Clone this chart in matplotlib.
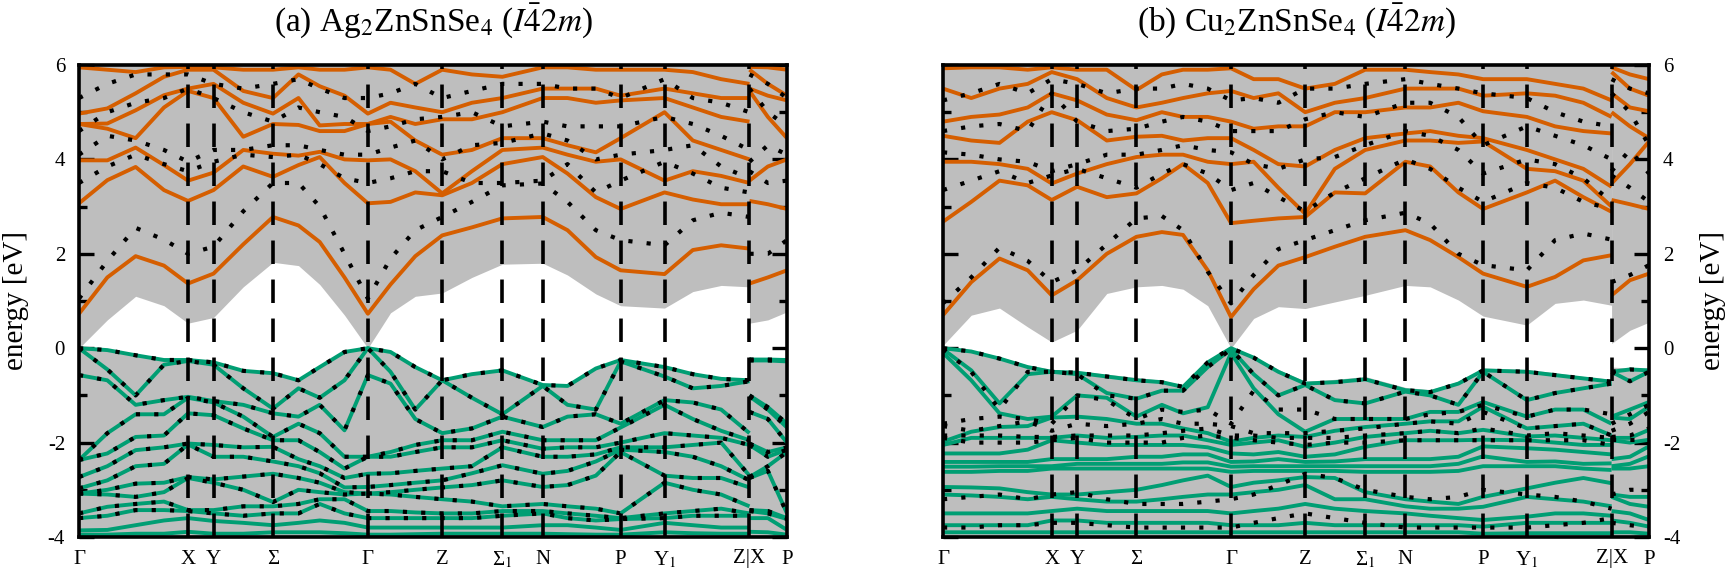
import numpy as np
import matplotlib
matplotlib.use('Agg')
import matplotlib.pyplot as plt
from matplotlib.ticker import MultipleLocator

plt.rcParams['font.family'] = ['Liberation Serif', 'DejaVu Serif']
plt.rcParams['mathtext.fontset'] = 'stix'
plt.rcParams['axes.unicode_minus'] = False

# ---------------- k-path ----------------
k_path = [0.0, 0.04, 0.08, 0.12, 0.154, 0.19, 0.232, 0.274, 0.31, 0.34, 0.375,
          0.408, 0.44, 0.475, 0.513, 0.555, 0.598, 0.655, 0.69, 0.73, 0.765,
          0.827, 0.867, 0.907, 0.947]
k_xp = [0.947, 0.973, 1.0]
tick_k = [0.0, 0.154, 0.19, 0.274, 0.408, 0.513, 0.598, 0.655, 0.765, 0.827, 0.947, 1.0]
tick_labels = ['Γ', 'X', 'Y', 'Σ', 'Γ', 'Z', 'Σ$_1$', 'N', 'P', 'Y$_1$', 'Z|X', 'P']

# ---------------- (a) Ag2ZnSnSe4 : rows = k points (25 on path, 3 on X-P) ----------------
ag_cb = [
    [0.73, 3.07, 3.98, 4.75, 4.75, 4.97, 5.95],
    [1.5, 3.56, 3.98, 4.65, 4.76, 5.08, 5.9],
    [1.95, 3.84, 4.25, 4.45, 5.04, 5.4, 5.85],
    [1.75, 3.35, 3.88, 5.1, 5.36, 5.75, 5.95],
    [1.37, 3.12, 3.55, 5.45, 5.5, 5.9, 5.96],
    [1.58, 3.35, 3.72, 5.3, 5.6, 5.9, 5.95],
    [2.2, 3.85, 4.2, 4.48, 5.2, 5.45, 5.9],
    [2.78, 3.63, 4.12, 4.75, 4.97, 5.3, 5.9],
    [2.6, 3.88, 4.08, 4.73, 5.3, 5.8, 5.95],
    [2.25, 4.05, 4.16, 4.6, 4.72, 5.55, 5.9],
    [1.5, 3.5, 4.0, 4.6, 4.75, 5.35, 5.9],
    [0.73, 3.07, 3.98, 4.75, 4.75, 4.97, 5.95],
    [1.35, 3.1, 4.0, 4.8, 4.9, 5.2, 5.9],
    [1.95, 3.3, 3.75, 4.4, 4.75, 5.1, 5.6],
    [2.39, 3.24, 3.28, 4.1, 4.85, 5.0, 5.9],
    [2.56, 3.5, 3.75, 4.2, 4.85, 5.2, 5.8],
    [2.75, 3.9, 4.2, 4.45, 5.0, 5.3, 5.75],
    [2.78, 4.05, 4.25, 4.45, 5.3, 5.5, 5.95],
    [2.5, 3.7, 4.1, 4.3, 5.3, 5.5, 5.95],
    [1.93, 3.2, 3.95, 4.15, 5.2, 5.5, 5.9],
    [1.65, 2.95, 4.0, 4.45, 5.25, 5.35, 5.9],
    [1.57, 3.3, 3.55, 5.0, 5.3, 5.5, 5.9],
    [2.08, 3.15, 3.75, 4.4, 5.1, 5.4, 5.85],
    [2.18, 3.05, 3.65, 4.2, 4.9, 5.3, 5.7],
    [2.11, 3.05, 3.5, 4.0, 4.8, 5.3, 5.6],
    [1.37, 3.12, 3.55, 5.45, 5.5, 5.9, 5.96],
    [1.5, 3.05, 3.85, 4.9, 5.35, 5.6, 5.95],
    [1.65, 2.95, 4.0, 4.45, 5.25, 5.35, 5.9],
]
ag_vb = [
    [0, 0, -0.57, -2.37, -2.37, -2.73, -2.97, -3.08, -3.08, -3.5, -3.6, -3.86, -3.95],
    [-0.04, -0.45, -0.68, -1.8, -2.23, -2.5, -2.8, -3.0, -3.1, -3.36, -3.55, -3.85, -3.95],
    [-0.15, -1.0, -1.2, -1.4, -1.88, -2.16, -2.5, -2.87, -3.15, -3.3, -3.43, -3.75, -3.93],
    [-0.25, -0.35, -1.1, -1.4, -1.85, -2.1, -2.45, -2.85, -3.05, -3.25, -3.43, -3.65, -3.93],
    [-0.25, -0.27, -1.03, -1.05, -1.38, -2.02, -2.04, -2.73, -2.75, -3.43, -3.45, -3.6, -3.89],
    [-0.3, -0.35, -1.12, -1.15, -1.42, -2.05, -2.3, -2.78, -2.85, -3.43, -3.5, -3.66, -3.93],
    [-0.48, -0.85, -1.2, -1.45, -1.7, -2.1, -2.3, -2.72, -3.0, -3.35, -3.55, -3.7, -3.93],
    [-0.53, -1.28, -1.38, -1.88, -1.95, -2.09, -2.4, -2.66, -3.26, -3.35, -3.5, -3.75, -3.9],
    [-0.68, -0.85, -1.45, -1.6, -1.95, -2.35, -2.5, -2.75, -3.0, -3.3, -3.5, -3.7, -3.9],
    [-0.4, -1.05, -1.2, -1.8, -2.2, -2.5, -2.65, -2.85, -3.05, -3.2, -3.3, -3.65, -3.9],
    [-0.08, -0.68, -1.74, -2.3, -2.55, -2.75, -2.95, -3.05, -3.1, -3.2, -3.5, -3.7, -3.92],
    [0, 0, -0.57, -2.3, -2.3, -2.66, -2.94, -3.08, -3.08, -3.45, -3.6, -3.8, -3.95],
    [-0.08, -0.5, -0.75, -2.2, -2.3, -2.65, -2.9, -3.05, -3.1, -3.45, -3.6, -3.8, -3.95],
    [-0.4, -1.3, -1.5, -2.05, -2.2, -2.6, -2.85, -3.0, -3.15, -3.48, -3.6, -3.8, -3.94],
    [-0.68, -0.68, -1.8, -1.95, -2.1, -2.55, -2.8, -2.95, -3.2, -3.5, -3.6, -3.8, -3.93],
    [-0.55, -1.05, -1.7, -1.95, -2.1, -2.5, -2.65, -2.9, -3.25, -3.5, -3.6, -3.8, -3.93],
    [-0.47, -1.4, -1.45, -1.77, -1.95, -2.1, -2.48, -2.8, -3.35, -3.45, -3.55, -3.8, -3.93],
    [-0.78, -0.8, -1.67, -1.95, -2.13, -2.3, -2.66, -2.94, -3.3, -3.45, -3.5, -3.75, -3.93],
    [-0.8, -1.2, -1.45, -1.95, -2.1, -2.3, -2.6, -2.9, -3.35, -3.5, -3.6, -3.75, -3.94],
    [-0.43, -1.3, -1.4, -1.95, -2.1, -2.25, -2.4, -2.7, -3.4, -3.55, -3.65, -3.8, -3.95],
    [-0.25, -0.28, -1.6, -1.68, -2.0, -2.1, -2.15, -2.2, -3.5, -3.6, -3.62, -3.85, -3.95],
    [-0.4, -0.6, -1.1, -1.2, -1.8, -2.1, -2.2, -2.7, -2.85, -3.5, -3.6, -3.7, -3.9],
    [-0.55, -0.85, -1.15, -1.5, -1.85, -2.05, -2.3, -2.75, -3.0, -3.45, -3.55, -3.75, -3.92],
    [-0.65, -0.8, -1.3, -1.75, -1.9, -2.0, -2.5, -2.75, -3.1, -3.4, -3.55, -3.8, -3.93],
    [-0.68, -0.7, -1.8, -1.95, -2.05, -2.7, -2.8, -2.95, -3.35, -3.5, -3.55, -3.8, -3.93],
    [-0.24, -0.26, -1.0, -1.02, -1.35, -2.02, -2.05, -2.73, -2.75, -3.43, -3.45, -3.6, -3.89],
    [-0.24, -0.26, -1.25, -1.3, -1.5, -2.2, -2.3, -2.5, -2.6, -3.45, -3.5, -3.6, -3.9],
    [-0.25, -0.28, -1.6, -1.68, -2.0, -2.1, -2.15, -2.2, -3.5, -3.6, -3.62, -3.85, -3.95],
]
ag_dft_cb = [
    [1.05, 3.5, 4.1, 4.6, 5.3],
    [1.85, 3.85, 4.5, 5.0, 5.6],
    [2.55, 4.1, 4.4, 5.2, 5.8],
    [2.3, 3.9, 4.2, 5.3, 5.8],
    [2.0, 3.75, 3.95, 5.5, 5.8],
    [2.15, 3.95, 4.2, 5.3, 5.6],
    [2.9, 4.1, 4.2, 5.0, 5.5],
    [3.5, 4.05, 4.3, 4.8, 5.6],
    [3.5, 4.1, 4.3, 5.1, 5.7],
    [3.0, 3.9, 4.2, 5.0, 5.5],
    [2.0, 3.6, 4.1, 4.9, 5.3],
    [1.05, 3.5, 4.1, 4.6, 5.3],
    [1.9, 3.6, 4.25, 4.7, 5.4],
    [2.5, 3.75, 4.4, 4.85, 5.6],
    [2.78, 3.75, 4.0, 4.9, 5.3],
    [3.1, 3.5, 4.3, 5.0, 5.45],
    [3.45, 3.5, 4.35, 4.7, 5.6],
    [3.49, 3.55, 4.55, 4.8, 5.6],
    [3.1, 3.9, 4.4, 4.7, 5.5],
    [2.5, 3.3, 4.0, 4.7, 5.5],
    [2.29, 3.55, 4.1, 4.7, 5.3],
    [2.18, 3.95, 4.2, 4.9, 5.7],
    [2.71, 3.7, 4.3, 4.75, 5.3],
    [2.87, 3.4, 3.85, 4.5, 5.2],
    [2.78, 3.3, 3.6, 4.2, 5.0],
    [2.0, 3.75, 3.95, 5.5, 5.8],
    [2.0, 3.5, 4.3, 5.0, 5.6],
    [2.29, 3.55, 4.1, 4.7, 5.3],
]
# in (a) the dotted valence bands lie on the green ones (same reading)
ag_dft_vb = [row[:11] for row in ag_vb]
ag_gray_c = [0.0, 0.6, 1.1, 0.9, 0.53, 0.65, 1.3, 1.82, 1.75, 1.35, 0.7, 0.0, 0.75,
             1.1, 1.17, 1.5, 1.78, 1.8, 1.55, 1.15, 0.9, 0.85, 1.2, 1.33, 1.3,
             0.53, 0.6, 0.77]
ag_gray_v = [0.0, -0.04, -0.15, -0.25, -0.25, -0.3, -0.48, -0.53, -0.68, -0.4, -0.08,
             0.0, -0.08, -0.4, -0.68, -0.55, -0.47, -0.78, -0.8, -0.43, -0.25, -0.4,
             -0.55, -0.65, -0.68, -0.24, -0.24, -0.25]

# ---------------- (b) Cu2ZnSnSe4 ----------------
cu_cb = [
    [0.7, 2.68, 3.95, 4.5, 4.8, 5.5, 5.93],
    [1.4, 3.1, 3.95, 4.4, 4.9, 5.3, 5.95],
    [1.9, 3.55, 3.9, 4.35, 4.95, 5.5, 5.95],
    [1.65, 3.45, 3.8, 4.8, 5.1, 5.6, 5.9],
    [1.12, 3.14, 3.49, 5.0, 5.4, 5.85, 5.95],
    [1.44, 3.42, 3.7, 4.83, 5.25, 5.7, 5.9],
    [2.0, 3.2, 3.9, 4.4, 4.95, 5.3, 5.9],
    [2.36, 3.28, 4.05, 4.48, 4.83, 5.1, 5.47],
    [2.46, 3.6, 4.1, 4.5, 5.0, 5.2, 5.8],
    [2.4, 3.9, 4.1, 4.4, 4.9, 5.3, 5.9],
    [1.65, 3.5, 3.95, 4.45, 4.9, 5.4, 5.9],
    [0.66, 2.65, 3.9, 4.45, 4.8, 5.45, 5.93],
    [1.25, 2.7, 3.95, 4.2, 4.65, 5.3, 5.7],
    [1.75, 2.75, 3.4, 3.9, 4.7, 5.4, 5.7],
    [1.93, 2.78, 2.85, 3.85, 4.7, 5.0, 5.5],
    [2.15, 3.3, 3.8, 4.2, 5.0, 5.2, 5.6],
    [2.36, 3.28, 4.2, 4.45, 5.0, 5.3, 5.9],
    [2.5, 3.95, 4.4, 4.55, 5.1, 5.5, 5.9],
    [2.29, 3.85, 4.4, 4.6, 5.1, 5.5, 5.85],
    [1.93, 3.3, 4.35, 4.5, 5.2, 5.5, 5.8],
    [1.58, 2.95, 4.38, 4.45, 5.02, 5.35, 5.7],
    [1.3, 3.3, 3.8, 4.2, 4.9, 5.4, 5.7],
    [1.51, 3.55, 3.75, 4.0, 4.7, 5.35, 5.6],
    [1.86, 3.2, 3.55, 3.8, 4.6, 5.2, 5.5],
    [1.97, 2.89, 3.0, 3.42, 4.55, 4.9, 5.25],
    [1.12, 3.14, 3.49, 5.0, 5.4, 5.85, 5.95],
    [1.44, 3.05, 3.9, 4.7, 5.1, 5.5, 5.8],
    [1.58, 2.95, 4.38, 4.45, 5.02, 5.35, 5.7],
]
cu_vb = [
    [0, -0.02, -0.1, -1.98, -2.05, -2.23, -2.41, -2.51, -2.62, -2.94, -3.1, -3.5, -3.75, -3.9],
    [-0.07, -0.47, -0.68, -1.77, -1.9, -2.23, -2.41, -2.51, -2.62, -2.95, -3.12, -3.5, -3.75, -3.9],
    [-0.22, -1.17, -1.38, -1.67, -1.9, -2.23, -2.41, -2.5, -2.6, -2.97, -3.15, -3.5, -3.75, -3.9],
    [-0.4, -0.55, -1.5, -1.65, -1.9, -2.15, -2.41, -2.5, -2.6, -3.05, -3.2, -3.5, -3.75, -3.9],
    [-0.5, -0.5, -1.45, -1.47, -1.9, -1.95, -2.35, -2.5, -2.55, -3.1, -3.15, -3.45, -3.65, -3.9],
    [-0.52, -0.55, -1.0, -1.45, -1.85, -2.0, -2.35, -2.45, -2.55, -3.1, -3.2, -3.4, -3.65, -3.9],
    [-0.6, -0.95, -1.05, -1.5, -1.9, -2.05, -2.35, -2.45, -2.55, -3.05, -3.25, -3.45, -3.7, -3.9],
    [-0.68, -1.07, -1.45, -1.6, -1.88, -2.05, -2.3, -2.45, -2.55, -3.0, -3.25, -3.45, -3.7, -3.9],
    [-0.72, -0.9, -1.2, -1.6, -1.85, -2.05, -2.3, -2.45, -2.55, -2.9, -3.2, -3.45, -3.7, -3.9],
    [-0.82, -0.9, -1.38, -1.7, -1.85, -2.05, -2.25, -2.42, -2.55, -2.8, -3.15, -3.45, -3.7, -3.9],
    [-0.3, -0.4, -1.25, -1.8, -1.95, -2.1, -2.25, -2.42, -2.55, -2.7, -3.1, -3.45, -3.7, -3.9],
    [0, -0.02, -0.1, -1.98, -2.05, -2.23, -2.41, -2.51, -2.62, -2.94, -3.1, -3.5, -3.75, -3.9],
    [-0.2, -0.55, -0.85, -1.9, -2.0, -2.25, -2.4, -2.5, -2.6, -2.85, -3.05, -3.45, -3.75, -3.9],
    [-0.5, -1.0, -1.4, -1.85, -1.95, -2.2, -2.35, -2.5, -2.6, -2.8, -3.0, -3.4, -3.75, -3.9],
    [-0.75, -0.78, -1.77, -1.88, -2.09, -2.3, -2.41, -2.5, -2.6, -2.73, -2.9, -3.3, -3.7, -3.9],
    [-0.72, -1.1, -1.5, -1.75, -2.0, -2.25, -2.4, -2.5, -2.6, -2.75, -3.2, -3.4, -3.75, -3.9],
    [-0.66, -1.17, -1.5, -1.67, -1.88, -2.09, -2.35, -2.5, -2.62, -3.05, -3.2, -3.45, -3.75, -3.9],
    [-0.89, -0.92, -1.5, -1.6, -1.8, -1.95, -2.35, -2.5, -2.62, -3.2, -3.35, -3.5, -3.75, -3.9],
    [-0.93, -1.0, -1.35, -1.55, -1.75, -1.95, -2.35, -2.5, -2.62, -3.25, -3.4, -3.55, -3.75, -3.9],
    [-0.75, -1.2, -1.35, -1.55, -1.8, -1.95, -2.3, -2.45, -2.6, -3.3, -3.4, -3.6, -3.75, -3.9],
    [-0.47, -0.5, -1.14, -1.24, -1.73, -1.94, -2.08, -2.29, -2.5, -3.15, -3.36, -3.64, -3.78, -3.93],
    [-0.5, -1.1, -1.45, -1.7, -1.87, -1.95, -2.12, -2.41, -2.5, -2.97, -3.15, -3.57, -3.7, -3.92],
    [-0.57, -0.95, -1.3, -1.65, -1.85, -2.0, -2.15, -2.4, -2.5, -2.85, -3.2, -3.5, -3.7, -3.92],
    [-0.64, -0.85, -1.3, -1.6, -1.9, -2.05, -2.2, -2.45, -2.55, -2.75, -3.25, -3.5, -3.7, -3.92],
    [-0.71, -0.75, -1.6, -1.85, -1.95, -2.05, -2.25, -2.44, -2.58, -2.86, -3.35, -3.55, -3.7, -3.92],
    [-0.5, -0.5, -1.45, -1.47, -1.9, -1.95, -2.35, -2.5, -2.55, -3.1, -3.15, -3.45, -3.65, -3.9],
    [-0.45, -0.7, -1.3, -1.5, -1.9, -2.0, -2.3, -2.45, -2.55, -3.15, -3.3, -3.5, -3.7, -3.9],
    [-0.47, -0.5, -1.14, -1.24, -1.73, -1.94, -2.08, -2.29, -2.5, -3.15, -3.36, -3.64, -3.78, -3.93],
]
cu_dft_cb = [
    [0.95, 3.35, 4.15, 4.6, 5.25],
    [1.5, 3.55, 4.1, 4.7, 5.4],
    [2.13, 3.75, 4.0, 4.75, 5.6],
    [1.85, 3.5, 3.95, 4.6, 5.4],
    [1.4, 3.66, 3.75, 5.4, 5.7],
    [1.65, 3.8, 3.9, 4.8, 5.6],
    [2.2, 3.6, 4.1, 4.6, 5.4],
    [2.75, 3.4, 4.1, 4.65, 5.5],
    [2.8, 3.7, 4.2, 4.8, 5.5],
    [2.5, 3.9, 4.3, 4.9, 5.6],
    [1.62, 3.7, 4.2, 4.8, 5.5],
    [0.95, 3.35, 4.15, 4.6, 5.25],
    [1.55, 3.5, 3.9, 4.6, 5.3],
    [2.1, 3.2, 3.8, 4.6, 5.2],
    [2.29, 2.9, 4.0, 4.85, 5.5],
    [2.5, 3.3, 4.05, 5.0, 5.5],
    [2.71, 3.6, 4.3, 4.9, 5.6],
    [2.87, 4.0, 4.6, 5.2, 5.7],
    [2.64, 3.8, 4.5, 5.2, 5.6],
    [2.0, 3.4, 4.2, 4.9, 5.5],
    [1.76, 3.1, 3.7, 4.3, 5.4],
    [1.65, 3.5, 4.0, 4.7, 5.3],
    [2.29, 3.4, 3.9, 4.5, 5.0],
    [2.43, 3.1, 3.6, 4.3, 4.8],
    [2.3, 2.95, 3.1, 4.0, 4.7],
    [1.4, 3.66, 3.75, 5.4, 5.7],
    [1.55, 3.4, 4.2, 5.0, 5.5],
    [1.76, 3.1, 3.7, 4.3, 5.4],
]
cu_dft_vb = [
    [0, -0.02, -1.6, -1.65, -1.85, -1.9, -3.2, -3.8],
    [-0.07, -0.5, -1.5, -1.75, -1.85, -2.0, -3.15, -3.8],
    [-0.22, -1.3, -1.45, -1.65, -1.85, -2.0, -3.1, -3.75],
    [-0.4, -0.5, -1.5, -1.55, -1.88, -2.0, -3.2, -3.75],
    [-0.5, -0.5, -1.6, -1.75, -1.88, -1.95, -3.1, -3.7],
    [-0.52, -0.55, -1.0, -1.6, -1.85, -1.9, -3.05, -3.7],
    [-0.6, -1.0, -1.1, -1.65, -1.85, -2.0, -3.2, -3.75],
    [-0.68, -1.07, -1.5, -1.6, -1.85, -2.0, -3.3, -3.8],
    [-0.72, -0.9, -1.3, -1.5, -1.8, -2.0, -3.3, -3.8],
    [-0.82, -0.9, -1.35, -1.6, -1.75, -1.9, -3.3, -3.8],
    [-0.3, -0.4, -1.3, -1.6, -1.7, -1.85, -3.25, -3.8],
    [0, -0.02, -1.6, -1.65, -1.85, -1.9, -3.2, -3.8],
    [-0.2, -0.55, -0.9, -1.8, -1.85, -1.95, -3.1, -3.7],
    [-0.5, -1.0, -1.3, -1.8, -1.9, -2.0, -2.9, -3.6],
    [-0.75, -0.78, -1.3, -1.8, -1.9, -2.05, -2.66, -3.5],
    [-0.72, -1.1, -1.5, -1.75, -1.9, -2.0, -2.75, -3.6],
    [-0.66, -1.17, -1.5, -1.7, -1.85, -2.0, -3.0, -3.7],
    [-0.89, -0.92, -1.5, -1.6, -1.8, -1.95, -3.15, -3.8],
    [-0.93, -1.0, -1.4, -1.55, -1.75, -1.95, -3.2, -3.8],
    [-0.75, -1.2, -1.35, -1.6, -1.8, -1.95, -3.15, -3.8],
    [-0.47, -0.5, -1.2, -1.35, -1.7, -1.95, -3.0, -3.8],
    [-0.5, -1.1, -1.45, -1.7, -1.85, -1.95, -3.1, -3.8],
    [-0.57, -0.95, -1.3, -1.65, -1.8, -1.95, -3.15, -3.75],
    [-0.64, -0.85, -1.3, -1.6, -1.85, -1.95, -3.25, -3.7],
    [-0.71, -0.75, -1.4, -1.85, -1.9, -2.05, -3.4, -3.6],
    [-0.5, -0.5, -1.6, -1.75, -1.88, -1.95, -3.1, -3.7],
    [-0.45, -0.7, -1.4, -1.6, -1.85, -1.95, -3.0, -3.75],
    [-0.47, -0.5, -1.2, -1.35, -1.7, -1.95, -3.0, -3.8],
]
cu_gray_c = [0.06, 0.7, 0.85, 0.45, 0.13, 0.38, 1.16, 1.3, 1.33, 1.25, 0.9, 0.0, 0.63,
             0.88, 0.84, 0.98, 1.12, 1.33, 1.3, 1.02, 0.68, 0.49, 0.95, 1.02, 0.91,
             0.1, 0.38, 0.55]
cu_gray_v = [0.0, -0.05, -0.18, -0.36, -0.45, -0.48, -0.55, -0.62, -0.68, -0.78, -0.27,
             0.0, -0.17, -0.45, -0.7, -0.66, -0.6, -0.83, -0.88, -0.7, -0.42, -0.45,
             -0.52, -0.6, -0.66, -0.4, -0.42, -0.42]

titles = ['(a) Ag$_2$ZnSnSe$_4$ ($\\mathit{I\\bar{4}2m}$)',
          '(b) Cu$_2$ZnSnSe$_4$ ($\\mathit{I\\bar{4}2m}$)']

ORANGE = '#D55E00'
GREEN = '#009E73'
GRAY = '#BEBEBE'

W, H = 1729, 573
fig = plt.figure(figsize=(W / 100, H / 100), dpi=100)
ax_a = fig.add_axes([79 / W, 36 / H, 708 / W, 472 / H])
ax_b = fig.add_axes([943 / W, 36 / H, 706 / W, 472 / H])


def draw(ax, cb, vb, dcb, dvb, gc, gv, title, right):
    cb, vb, dcb, dvb = map(np.asarray, (cb, vb, dcb, dvb))
    gc, gv = np.asarray(gc), np.asarray(gv)
    for sl, kk in ((slice(0, 25), np.asarray(k_path)), (slice(25, 28), np.asarray(k_xp))):
        ax.fill_between(kk, -4.5, gv[sl], color=GRAY, lw=0, zorder=1)
        ax.fill_between(kk, gc[sl], 6.5, color=GRAY, lw=0, zorder=1)
        for j in range(vb.shape[1]):
            ax.plot(kk, vb[sl, j], color=GREEN, lw=2.8, zorder=2,
                    solid_joinstyle='round', solid_capstyle='butt')
        for j in range(cb.shape[1]):
            ax.plot(kk, cb[sl, j], color=ORANGE, lw=2.8, zorder=2,
                    solid_joinstyle='round', solid_capstyle='butt')
        for arr in (dcb, dvb):
            for j in range(arr.shape[1]):
                ax.plot(kk, arr[sl, j], color='black', lw=3.0, zorder=3,
                        linestyle=(0, (1, 3.4)), dash_capstyle='butt')
    for x in tick_k[1:-1]:
        ax.axvline(x, color='black', lw=2.6, dashes=(6.5, 4.3), zorder=4)
    ax.set_xlim(0, 1)
    ax.set_ylim(-4, 6)
    ax.set_xticks(tick_k)
    ax.set_xticklabels(tick_labels)
    ax.set_yticks([-4, -2, 0, 2, 4, 6])
    ax.yaxis.set_minor_locator(MultipleLocator(1))
    ax.tick_params(axis='x', length=0, pad=9, labelsize=15)
    ax.tick_params(axis='y', which='both', direction='in', left=True, right=True,
                   width=2.4, labelsize=15, pad=10,
                   labelleft=not right, labelright=right)
    ax.tick_params(axis='y', which='major', length=11)
    ax.tick_params(axis='y', which='minor', length=5.5)
    for s in ax.spines.values():
        s.set_linewidth(2.6)
        s.set_zorder(6)
    ax.set_title(title, fontsize=24, pad=25)
    ax.set_ylabel('energy [eV]', fontsize=21)
    if right:
        ax.yaxis.set_label_position('right')
        ax.yaxis.set_label_coords(1.072, 0.5)
    else:
        ax.yaxis.set_label_coords(-0.071, 0.5)


draw(ax_a, ag_cb, ag_vb, ag_dft_cb, ag_dft_vb, ag_gray_c, ag_gray_v, titles[0], False)
draw(ax_b, cu_cb, cu_vb, cu_dft_cb, cu_dft_vb, cu_gray_c, cu_gray_v, titles[1], True)

fig.savefig('out.png', dpi=100)
